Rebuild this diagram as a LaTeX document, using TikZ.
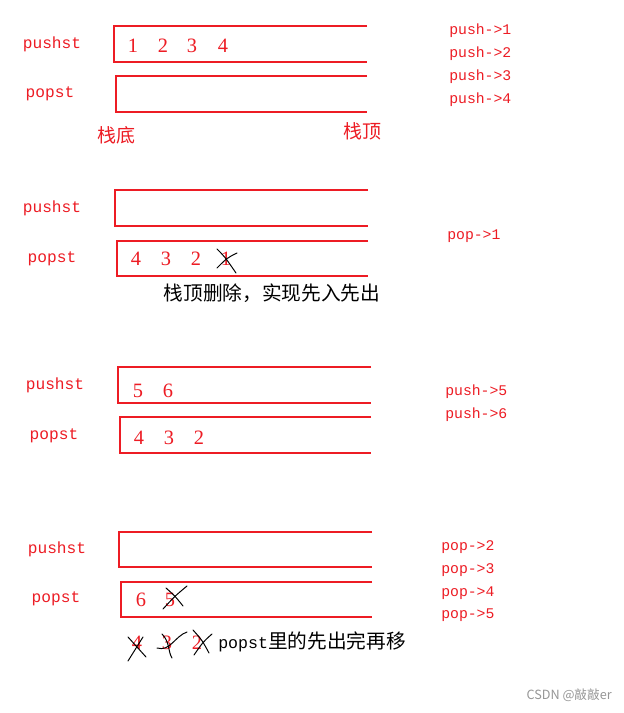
\documentclass[tikz,border=0pt]{standalone}
\usepackage{fontspec}
\setmainfont{Liberation Serif}
\setmonofont{Liberation Mono}
\newfontfamily\cjk{Noto Sans CJK SC}
\usetikzlibrary{positioning}

\definecolor{stackred}{RGB}{237,28,36}
\definecolor{markgray}{RGB}{150,150,150}

\tikzset{
  stackbox/.style={draw=stackred,line width=0.85pt},
  stacklabel/.style={font=\ttfamily\fontsize{11.5}{12}\selectfont,text=stackred,inner sep=0pt},
  oplabel/.style={font=\ttfamily\fontsize{10.5}{11}\selectfont,text=stackred,inner sep=0pt,anchor=west},
  elem/.style={font=\fontsize{14.5}{15}\selectfont,text=stackred,inner sep=0pt},
  note/.style={font=\cjk\fontsize{14}{15}\selectfont,inner sep=0pt},
  crossout/.style={black,line width=0.7pt,line cap=round}
}

\begin{document}
\begin{tikzpicture}[x=0.025cm,y=-0.025cm]
\useasboundingbox[fill=white] (0,0) rectangle (624,713);

% step 1: push 1..4
\draw[stackbox] (367,26) -- (114,26) -- (114,62) -- (367,62);
\draw[stackbox] (367,76) -- (116,76) -- (116,112) -- (367,112);
\node[stacklabel] (pushA) at (52,44) {pushst};
\node[stacklabel] (popA) at (50,94) {popst};
\node[elem] (a1) at (133,46) {1};
\node[elem] (a2) at (163,46) {2};
\node[elem] (a3) at (192,46) {3};
\node[elem] (a4) at (223,46) {4};
\node[note,text=stackred,font=\cjk\fontsize{13.5}{14}\selectfont] (bottomA) at (116,135) {栈底};
\node[note,text=stackred,font=\cjk\fontsize{13.5}{14}\selectfont] (topA) at (362,131) {栈顶};
\node[oplabel] (opA1) at (449,31) {push->1};
\node[oplabel] (opA2) at (449,54) {push->2};
\node[oplabel] (opA3) at (449,77) {push->3};
\node[oplabel] (opA4) at (449,100) {push->4};

% step 2: move to popst, pop 1
\draw[stackbox] (368,190) -- (115,190) -- (115,226) -- (368,226);
\draw[stackbox] (368,241) -- (117,241) -- (117,276) -- (368,276);
\node[stacklabel] (pushB) at (52,208) {pushst};
\node[stacklabel] (popB) at (52,259) {popst};
\node[elem] (b4) at (136,259) {4};
\node[elem] (b3) at (166,259) {3};
\node[elem] (b2) at (196,259) {2};
\node[elem] (b1) at (226,259) {1};
\draw[crossout] (217,249) .. controls (225,257) .. (236,273);
\draw[crossout] (217,268) .. controls (227,258) .. (237,253);
\node[note] (noteB) at (272,293) {栈顶删除，实现先入先出};
\node[oplabel] (opB1) at (447,236) {pop->1};

% step 3: push 5, 6
\draw[stackbox] (371,367) -- (118,367) -- (118,403) -- (371,403);
\draw[stackbox] (371,417) -- (120,417) -- (120,453) -- (371,453);
\node[stacklabel] (pushC) at (55,385) {pushst};
\node[stacklabel] (popC) at (54,436) {popst};
\node[elem] (c5) at (138,391) {5};
\node[elem] (c6) at (168,391) {6};
\node[elem] (c4) at (139,438) {4};
\node[elem] (c3) at (169,438) {3};
\node[elem] (c2) at (199,438) {2};
\node[oplabel] (opC1) at (445,392) {push->5};
\node[oplabel] (opC2) at (445,415) {push->6};

% step 4: pop the rest
\draw[stackbox] (372,532) -- (119,532) -- (119,567) -- (372,567);
\draw[stackbox] (372,582) -- (121,582) -- (121,617) -- (372,617);
\node[stacklabel] (pushD) at (57,549) {pushst};
\node[stacklabel] (popD) at (56,599) {popst};
\node[elem] (d6) at (141,600) {6};
\node[elem] (d5) at (170,600) {5};
\draw[crossout] (166,588) .. controls (175,596) .. (183,606);
\draw[crossout] (163,609) .. controls (175,596) .. (187,586);
\node[elem] (e4) at (137,643) {4};
\node[elem] (e3) at (167,643) {3};
\node[elem] (e2) at (197,643) {2};
\draw[crossout] (128,637) -- (146,657);
\draw[crossout] (128,661) -- (143,637);
\draw[crossout] (157,648) .. controls (170,652) and (175,636) .. (187,632);
\draw[crossout] (162,634) .. controls (170,642) and (168,652) .. (172,658);
\draw[crossout] (193,630) .. controls (202,640) .. (209,653);
\draw[crossout] (194,655) .. controls (203,642) .. (212,634);
\node[note,anchor=west] (noteD) at (218,642) {{\ttfamily\fontsize{11.8}{12}\selectfont popst}里的先出完再移};
\node[oplabel] (opD2) at (441,547) {pop->2};
\node[oplabel] (opD3) at (441,570) {pop->3};
\node[oplabel] (opD4) at (441,593) {pop->4};
\node[oplabel] (opD5) at (441,615) {pop->5};

\node[font=\cjk\fontsize{9}{10}\selectfont,text=markgray,inner sep=0pt,anchor=east] (mark) at (612,695) {CSDN @敲敲er};

\end{tikzpicture}
\end{document}
